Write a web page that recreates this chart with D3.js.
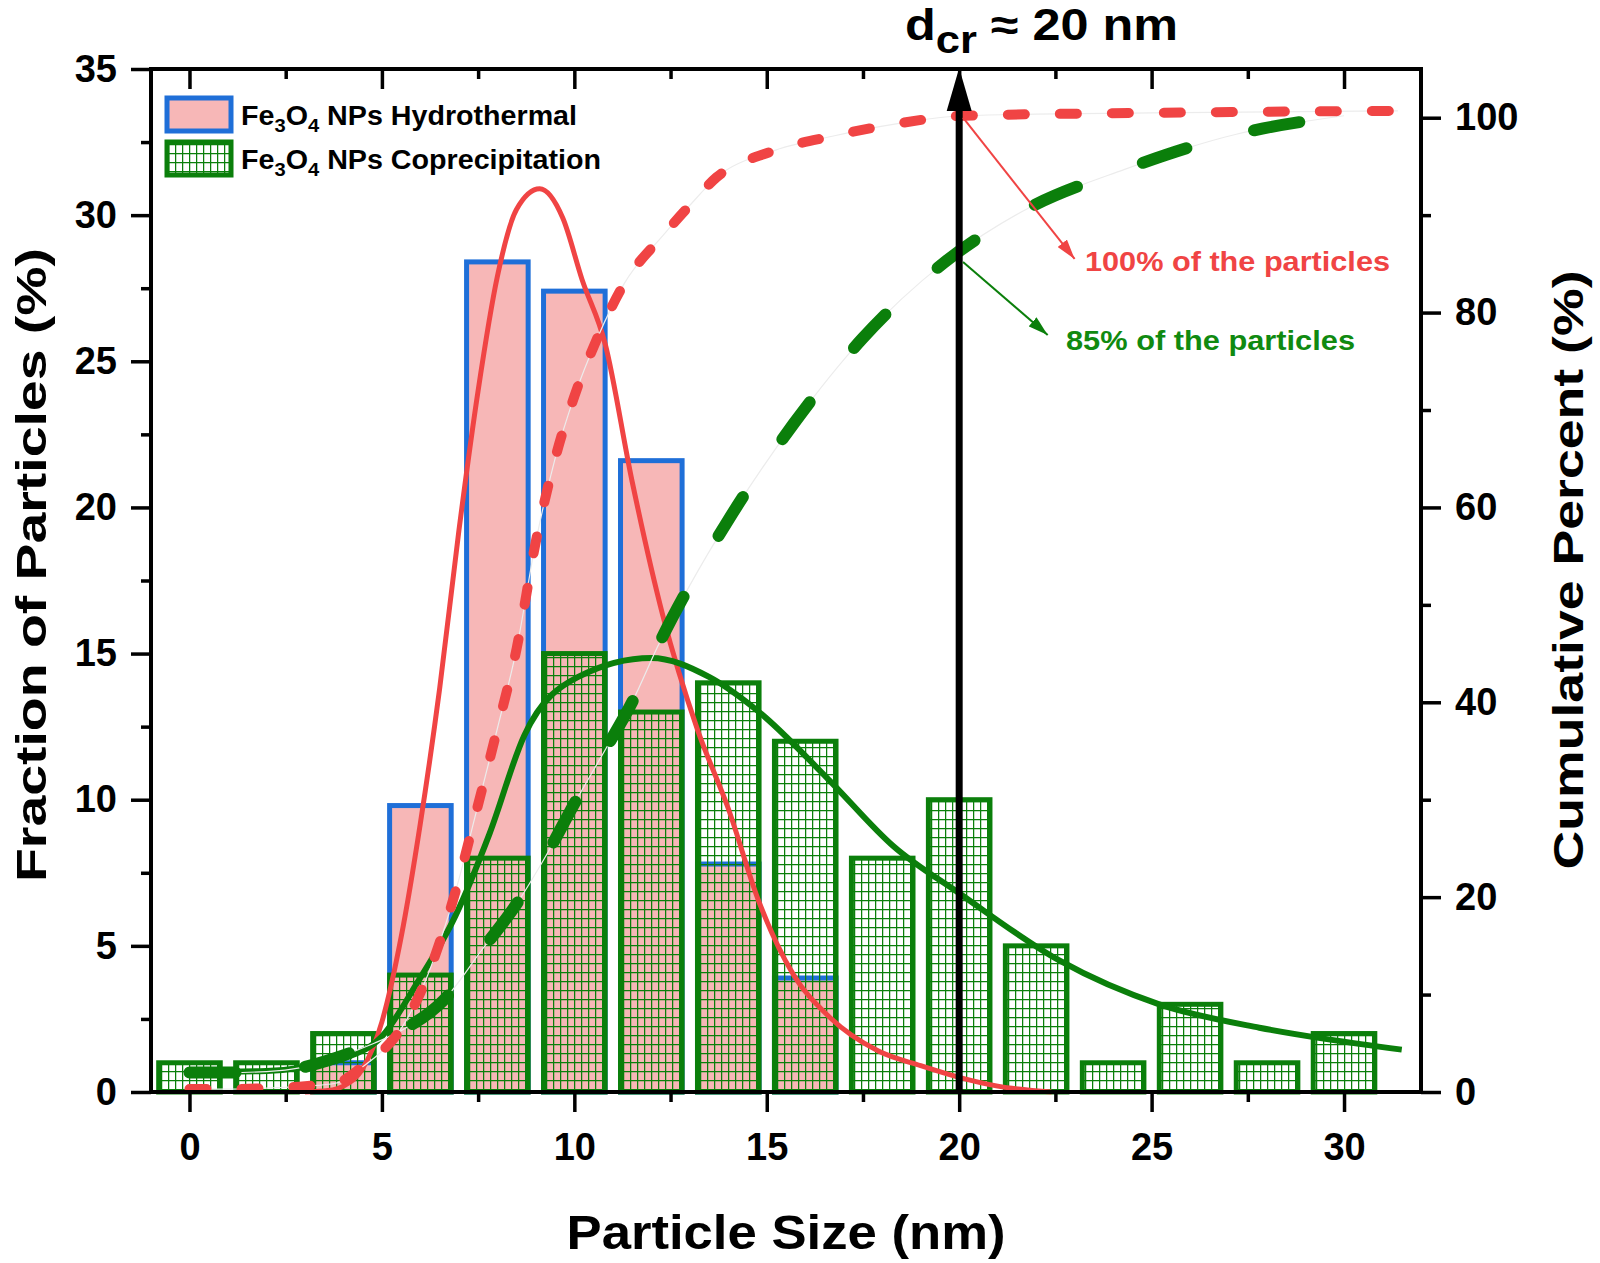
<!DOCTYPE html>
<html>
<head>
<meta charset="utf-8">
<script src="https://cdn.jsdelivr.net/npm/d3@7/dist/d3.min.js"></script>
<style>
    body { margin: 0; background: #fff; }
    svg { display: block; font-family: "Liberation Sans", Arial, sans-serif; font-weight: bold; }
</style>
</head>
<body>
<svg id="mainsvg" width="1600" height="1263"></svg>
<script>
// histogram bins (nm) and fraction of particles (%)
let sizeBins = [0, 2, 4, 6, 8, 10, 12, 14, 16, 18, 20, 22, 24, 26, 28, 30];
let hydroFraction = [0, 0, 1.0, 9.8, 28.4, 27.4, 21.6, 7.8, 3.9, 0, 0, 0, 0, 0, 0, 0];
let coprecFraction = [1, 1, 2, 4, 8, 15, 13, 14, 12, 8, 10, 5, 1, 3, 1, 2];

// fitted distributions (left axis)
let hydroFitX = [3.0, 3.6, 4.0, 4.5, 5.0, 5.5, 6.0, 6.5, 7.0, 7.5, 8.0, 8.5, 9.1, 9.7, 10.2, 10.8, 11.5, 12.3, 13.2, 14.0, 14.8, 15.7, 16.6, 17.9, 19.0, 20.0, 21.0, 22.4];
let hydroFitY = [0, 0.05, 0.2, 0.8, 2.4, 5.3, 9.2, 13.8, 19.2, 24.0, 27.9, 30.2, 30.9, 29.9, 27.8, 25.6, 20.9, 16.3, 12.4, 9.7, 6.5, 4.0, 2.6, 1.4, 0.9, 0.5, 0.2, 0];
let coprecFitX = [0, 1, 2, 3, 4, 5, 5.9, 6.9, 7.8, 8.7, 10.1, 12.0, 13.5, 14.8, 16.6, 18.3, 20.0, 22.6, 25.2, 27.8, 29.6, 31.5];
let coprecFitY = [0.7, 0.7, 0.72, 0.85, 1.15, 1.9, 3.7, 6.0, 8.85, 12.2, 14.2, 14.85, 14.2, 13.0, 10.7, 8.4, 6.8, 4.5, 3.0, 2.2, 1.8, 1.45];

// cumulative percent (right axis)
let hydroCumX = [0, 1, 2, 3, 3.8, 4.5, 4.95, 5.5, 6.0, 6.4, 6.9, 7.5, 8.0, 8.5, 9.0, 9.5, 10.0, 10.6, 11.3, 12.3, 13.0, 13.7, 15.1, 16.7, 18.4, 20.1, 25, 31.4];
let hydroCumY = [0.3, 0.3, 0.4, 0.6, 0.9, 2.6, 4.0, 6.5, 10.2, 14.2, 20.4, 29.5, 37.3, 45.5, 56.5, 65.0, 71.4, 77.4, 83.0, 87.9, 91.0, 93.9, 96.5, 98.1, 99.4, 100.2, 100.5, 100.7];
let coprecCumX = [0, 1, 2, 2.9, 3.8, 4.8, 5.5, 6.6, 7.6, 8.5, 9.3, 10.0, 10.8, 11.5, 12.2, 13.0, 14.0, 15.7, 17.5, 19.6, 21.6, 24.3, 27.2, 30.0];
let coprecCumY = [2.0, 2.0, 2.1, 2.5, 3.5, 5.0, 6.3, 9.4, 14.6, 19.3, 24.5, 29.6, 35.1, 40.0, 46.0, 52.0, 58.7, 68.6, 77.4, 85.1, 90.3, 94.7, 98.3, 100.2];

let leftTicks = [0, 5, 10, 15, 20, 25, 30, 35];
let leftMinor = [2.5, 7.5, 12.5, 17.5, 22.5, 27.5, 32.5];
let rightTicks = [0, 20, 40, 60, 80, 100];
let rightMinor = [10, 30, 50, 70, 90];
let bottomTicks = [0, 5, 10, 15, 20, 25, 30];
let bottomMinor = [2.5, 7.5, 12.5, 17.5, 22.5, 27.5];

let criticalSize = 20;

const RED = "#f04444";
const BLUE = "#1f6fd8";
const PINK = "#f7b7b7";
const GREEN = "#0b7f0b";

let svg = d3.select("#mainsvg");
let x = d3.scaleLinear().domain([-1, 32]).range([151, 1421]);
let yLeft = d3.scaleLinear().domain([0, 35]).range([1092, 69]);
let yRight = d3.scaleLinear().domain([0, 105]).range([1092, 69]);

// patterns and markers
let defs = svg.append("defs");
let grid = defs.append("pattern").attr("id", "grid")
    .attr("patternUnits", "userSpaceOnUse")
    .attr("width", 7).attr("height", 9);
grid.append("path").attr("d", "M0,0.6 H7 M0.6,0 V9")
    .attr("stroke", GREEN).attr("stroke-width", 1.3).attr("fill", "none");

function addHead(id, color, len, wid) {
    defs.append("marker").attr("id", id)
        .attr("viewBox", `0 ${-wid / 2} ${len} ${wid}`)
        .attr("refX", len).attr("refY", 0)
        .attr("markerUnits", "userSpaceOnUse")
        .attr("markerWidth", len).attr("markerHeight", wid)
        .attr("orient", "auto")
        .append("path").attr("d", `M0,${-wid / 2} L${len},0 L0,${wid / 2} Z`).attr("fill", color);
}
addHead("headRed", RED, 20, 12);
addHead("headGreen", GREEN, 20, 12);

// bars
let barHalf = 0.8;
let hydroData = sizeBins.map((b, i) => ({x: b, v: hydroFraction[i]})).filter(d => d.v > 0);
let coprecData = sizeBins.map((b, i) => ({x: b, v: coprecFraction[i]})).filter(d => d.v > 0);

svg.append("g").selectAll("rect").data(hydroData).enter().append("rect")
    .attr("x", d => x(d.x - barHalf))
    .attr("width", d => x(d.x + barHalf) - x(d.x - barHalf))
    .attr("y", d => yLeft(d.v))
    .attr("height", d => yLeft(0) - yLeft(d.v))
    .attr("fill", PINK).attr("stroke", BLUE).attr("stroke-width", 5);

svg.append("g").selectAll("rect").data(coprecData).enter().append("rect")
    .attr("x", d => x(d.x - barHalf))
    .attr("width", d => x(d.x + barHalf) - x(d.x - barHalf))
    .attr("y", d => yLeft(d.v))
    .attr("height", d => yLeft(0) - yLeft(d.v))
    .attr("fill", "url(#grid)").attr("stroke", GREEN).attr("stroke-width", 5);

// curves
function curvePath(xs, ys, yScale) {
    let pts = xs.map((v, i) => [x(v), yScale(ys[i])]);
    return d3.line().curve(d3.curveMonotoneX)(pts);
}

let curves = svg.append("g").attr("fill", "none");
curves.append("path").attr("d", curvePath(hydroFitX, hydroFitY, yLeft))
    .attr("stroke", RED).attr("stroke-width", 5);
curves.append("path").attr("d", curvePath(coprecFitX, coprecFitY, yLeft))
    .attr("stroke", GREEN).attr("stroke-width", 6);

// thin guide line under the dashed cumulative curves
curves.append("path").attr("d", curvePath(hydroCumX, hydroCumY, yRight))
    .attr("stroke", "#ececec").attr("stroke-width", 1.2);
curves.append("path").attr("d", curvePath(coprecCumX, coprecCumY, yRight))
    .attr("stroke", "#ececec").attr("stroke-width", 1.2);

curves.append("path").attr("d", curvePath(hydroCumX, hydroCumY, yRight))
    .attr("stroke", RED).attr("stroke-width", 10)
    .attr("stroke-linecap", "round").attr("stroke-dasharray", "17 35");
curves.append("path").attr("d", curvePath(coprecCumX, coprecCumY, yRight))
    .attr("stroke", GREEN).attr("stroke-width", 12)
    .attr("stroke-linecap", "round").attr("stroke-dasharray", "46 70");

// critical size arrow
let arrowX = x(criticalSize);
svg.append("line")
    .attr("x1", arrowX).attr("x2", arrowX)
    .attr("y1", yLeft(0)).attr("y2", yLeft(35) + 38)
    .attr("stroke", "black").attr("stroke-width", 7);
svg.append("path")
    .attr("d", `M${arrowX},${yLeft(35) - 1} L${arrowX - 12.5},${yLeft(35) + 42} L${arrowX + 12.5},${yLeft(35) + 42} Z`)
    .attr("fill", "black");

// annotation arrows
svg.append("line")
    .attr("x1", x(20.1)).attr("y1", yRight(100))
    .attr("x2", x(23.0)).attr("y2", yRight(85.5))
    .attr("stroke", RED).attr("stroke-width", 2).attr("marker-end", "url(#headRed)");
svg.append("line")
    .attr("x1", x(20.1)).attr("y1", yRight(85.2))
    .attr("x2", x(22.3)).attr("y2", yRight(77.7))
    .attr("stroke", GREEN).attr("stroke-width", 2).attr("marker-end", "url(#headGreen)");

svg.append("text").attr("x", 1085).attr("y", 271)
    .attr("font-size", 27).attr("fill", RED)
    .attr("textLength", 305).attr("lengthAdjust", "spacingAndGlyphs")
    .text("100% of the particles");
svg.append("text").attr("x", 1066).attr("y", 350)
    .attr("font-size", 27).attr("fill", "#108a10")
    .attr("textLength", 289).attr("lengthAdjust", "spacingAndGlyphs")
    .text("85% of the particles");

// axes
function styleAxis(g, fontSize) {
    g.attr("font-family", null).attr("font-size", fontSize);
    g.select(".domain").remove();
    g.selectAll(".tick line").attr("stroke", "black").attr("stroke-width", 3.5);
    g.selectAll(".tick text").attr("fill", "black");
}

svg.append("g").attr("transform", "translate(151,0)")
    .call(d3.axisLeft(yLeft).tickValues(leftTicks).tickSize(20).tickSizeOuter(0).tickPadding(14))
    .call(g => styleAxis(g, 38));
svg.append("g").attr("transform", "translate(151,0)")
    .call(d3.axisLeft(yLeft).tickValues(leftMinor).tickSize(10).tickSizeOuter(0).tickFormat(""))
    .call(g => styleAxis(g, 38));

svg.append("g").attr("transform", "translate(1421,0)")
    .call(d3.axisRight(yRight).tickValues(rightTicks).tickSize(20).tickSizeOuter(0).tickPadding(14))
    .call(g => styleAxis(g, 38));
svg.append("g").attr("transform", "translate(1421,0)")
    .call(d3.axisRight(yRight).tickValues(rightMinor).tickSize(10).tickSizeOuter(0).tickFormat(""))
    .call(g => styleAxis(g, 38));

svg.append("g").attr("transform", "translate(0,1092)")
    .call(d3.axisBottom(x).tickValues(bottomTicks).tickSize(20).tickSizeOuter(0).tickPadding(21))
    .call(g => styleAxis(g, 38));
svg.append("g").attr("transform", "translate(0,1092)")
    .call(d3.axisBottom(x).tickValues(bottomMinor).tickSize(10).tickSizeOuter(0).tickFormat(""))
    .call(g => styleAxis(g, 38));

svg.append("g").attr("transform", "translate(0,69)")
    .call(d3.axisTop(x).tickValues(bottomTicks).tickSize(-20).tickSizeOuter(0).tickFormat(""))
    .call(g => styleAxis(g, 38));
svg.append("g").attr("transform", "translate(0,69)")
    .call(d3.axisTop(x).tickValues(bottomMinor).tickSize(-10).tickSizeOuter(0).tickFormat(""))
    .call(g => styleAxis(g, 38));

// frame
svg.append("rect")
    .attr("x", x.range()[0]).attr("y", yLeft.range()[1])
    .attr("width", x.range()[1] - x.range()[0])
    .attr("height", yLeft.range()[0] - yLeft.range()[1])
    .attr("fill", "none").attr("stroke", "black").attr("stroke-width", 4);

// axis titles
svg.append("text")
    .attr("transform", "translate(46,565) rotate(-90)")
    .attr("text-anchor", "middle").attr("font-size", 42)
    .attr("textLength", 634).attr("lengthAdjust", "spacingAndGlyphs")
    .text("Fraction of Particles (%)");
svg.append("text")
    .attr("transform", "translate(1583,570) rotate(-90)")
    .attr("text-anchor", "middle").attr("font-size", 42)
    .attr("textLength", 599).attr("lengthAdjust", "spacingAndGlyphs")
    .text("Cumulative Percent (%)");
svg.append("text")
    .attr("x", 786).attr("y", 1249)
    .attr("text-anchor", "middle").attr("font-size", 48)
    .attr("textLength", 439).attr("lengthAdjust", "spacingAndGlyphs")
    .text("Particle Size (nm)");

// d_cr label
let dcr = svg.append("text").attr("x", 905).attr("y", 40).attr("font-size", 44)
    .attr("textLength", 273).attr("lengthAdjust", "spacingAndGlyphs");
dcr.append("tspan").text("d");
dcr.append("tspan").attr("dy", 13).attr("font-size", 38).text("cr");
dcr.append("tspan").attr("dy", -13).text(" \u2248 20 nm");

// legend
let legendRows = [
    {name: " NPs Hydrothermal", fill: PINK, stroke: BLUE, len: 336},
    {name: " NPs Coprecipitation", fill: "url(#grid)", stroke: GREEN, len: 360}
];
let legend = svg.append("g");
legendRows.forEach(function (row, i) {
    let top = 98 + i * 44;
    legend.append("rect").attr("x", 167).attr("y", top).attr("width", 64).attr("height", 33)
        .attr("fill", "white");
    legend.append("rect").attr("x", 167).attr("y", top).attr("width", 64).attr("height", 33)
        .attr("fill", row.fill).attr("stroke", row.stroke).attr("stroke-width", 5);
    let t = legend.append("text").attr("x", 241).attr("y", top + 27).attr("font-size", 27)
        .attr("textLength", row.len).attr("lengthAdjust", "spacingAndGlyphs");
    t.append("tspan").text("Fe");
    t.append("tspan").attr("font-size", 19).attr("dy", 7).text("3");
    t.append("tspan").attr("dy", -7).text("O");
    t.append("tspan").attr("font-size", 19).attr("dy", 7).text("4");
    t.append("tspan").attr("dy", -7).text(row.name);
});
</script>
</body>
</html>
